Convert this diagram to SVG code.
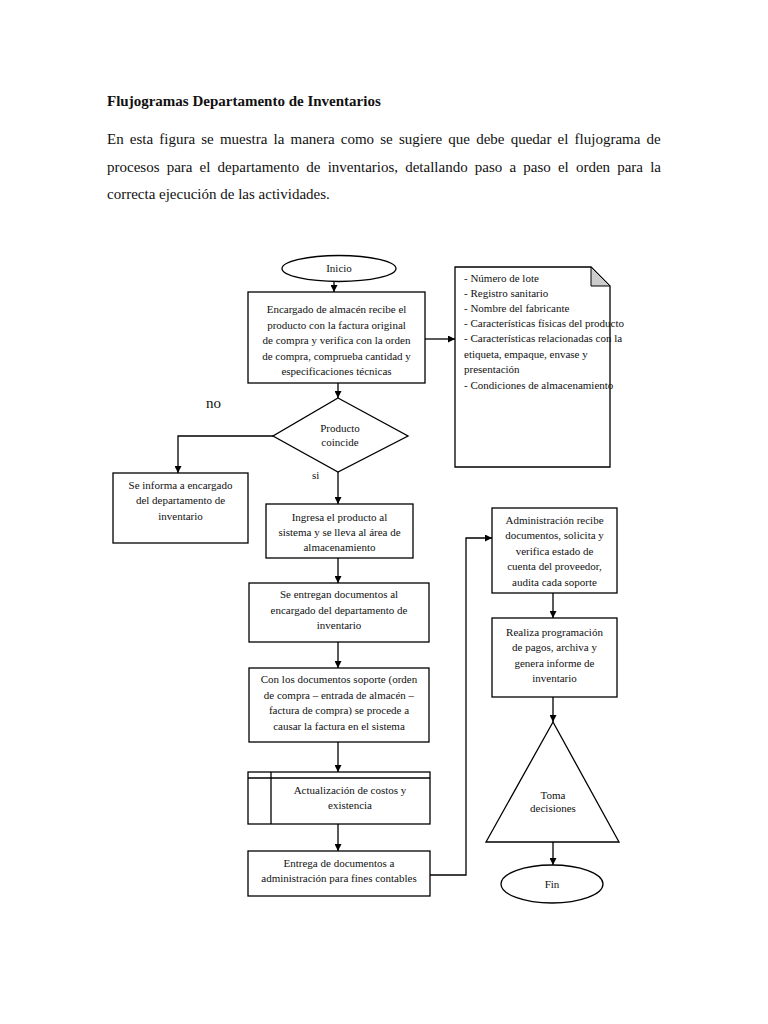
<svg xmlns="http://www.w3.org/2000/svg" width="768" height="1024" viewBox="0 0 768 1024">
<defs>
<marker id="ah" viewBox="0 0 10 10" refX="10" refY="5" markerWidth="7" markerHeight="7" markerUnits="userSpaceOnUse" orient="auto">
<path d="M0,0 L10,5 L0,10 z" fill="#000"/>
</marker>
<style>
.t{font-family:"Liberation Serif","Times New Roman",serif;fill:#111}
.p{font-size:15px}
.n{font-size:11px;text-anchor:middle}
.nl{font-size:11px}
.s{fill:#fff;stroke:#000;stroke-width:1.3}
.c{fill:none;stroke:#000;stroke-width:1.3;marker-end:url(#ah)}
.l{fill:none;stroke:#000;stroke-width:1.3}
</style>
</defs>
<rect width="768" height="1024" fill="#fff"/>
<text class="t p" x="107" y="106" font-weight="bold">Flujogramas Departamento de Inventarios</text>
<text class="t p" x="107" y="144" word-spacing="2.4">En esta figura se muestra la manera como se sugiere que debe quedar el flujograma de</text>
<text class="t p" x="107" y="172" word-spacing="3.4">procesos para el departamento de inventarios, detallando paso a paso el orden para la</text>
<text class="t p" x="107" y="199">correcta ejecución de las actividades.</text>

<g id="connectors">
<path class="c" d="M334,281.5 V292"/>
<path class="c" d="M338,383 V398"/>
<path class="c" d="M425,339 H455"/>
<path class="c" d="M273,436 H178 V473"/>
<path class="c" d="M338,472 V504"/>
<path class="c" d="M338,558 V583"/>
<path class="c" d="M338,642 V668"/>
<path class="c" d="M338,742 V772"/>
<path class="c" d="M338,824 V851"/>
<path class="c" d="M430,875 H466 V538 H492"/>
<path class="c" d="M553,593 V618"/>
<path class="c" d="M553,697 V722"/>
<path class="c" d="M553,842 V865"/>
</g>

<g id="inicio">
<ellipse class="s" cx="339" cy="268.5" rx="57" ry="13"/>
<text class="t n" x="339" y="272">Inicio</text>
</g>

<g id="recibe">
<rect class="s" x="248" y="292" width="177" height="91"/>
<text class="t n" x="336.5" y="313">Encargado de almacén recibe el</text>
<text class="t n" x="336.5" y="328.5">producto con la factura original</text>
<text class="t n" x="336.5" y="344">de compra y verifica con la orden</text>
<text class="t n" x="336.5" y="359.5">de compra, comprueba cantidad y</text>
<text class="t n" x="336.5" y="375">especificaciones técnicas</text>
</g>

<g id="nota">
<path class="s" d="M455,267 H591 L610,286 V467 H455 Z"/>
<path d="M591,267 L591,286 L610,286 Z" fill="#ccc" stroke="#000" stroke-width="1"/>
<text class="t nl" x="464" y="281.5">- Número de lote</text>
<text class="t nl" x="464" y="296.5">- Registro sanitario</text>
<text class="t nl" x="464" y="311.5">- Nombre del fabricante</text>
<text class="t nl" x="464" y="327">- Características físicas del producto</text>
<text class="t nl" x="464" y="342">- Características relacionadas con la</text>
<text class="t nl" x="464" y="357.5">etiqueta, empaque, envase y</text>
<text class="t nl" x="464" y="373">presentación</text>
<text class="t nl" x="464" y="388.5">- Condiciones de almacenamiento</text>
</g>

<g id="decision">
<path class="s" d="M338,398 L408,436 L338,472 L273,436 Z"/>
<text class="t n" x="340" y="431.5">Producto</text>
<text class="t n" x="340" y="446">coincide</text>
</g>
<text class="t" x="206" y="408" font-size="15">no</text>
<text class="t" x="312" y="479" font-size="11">si</text>

<g id="informa">
<rect class="s" x="113" y="473" width="135" height="70"/>
<text class="t n" x="180.5" y="488.5">Se informa a encargado</text>
<text class="t n" x="180.5" y="504">del departamento de</text>
<text class="t n" x="180.5" y="519.5">inventario</text>
</g>

<g id="ingresa">
<rect class="s" x="266" y="504" width="147" height="54"/>
<text class="t n" x="339.5" y="520.5">Ingresa el producto al</text>
<text class="t n" x="339.5" y="535.5">sistema y se lleva al área de</text>
<text class="t n" x="339.5" y="551">almacenamiento</text>
</g>

<g id="entregan">
<rect class="s" x="249" y="583" width="180" height="59"/>
<text class="t n" x="339" y="598">Se entregan documentos al</text>
<text class="t n" x="339" y="613.5">encargado del departamento de</text>
<text class="t n" x="339" y="629">inventario</text>
</g>

<g id="causar">
<rect class="s" x="249" y="668" width="180" height="74"/>
<text class="t n" x="339" y="683">Con los documentos soporte (orden</text>
<text class="t n" x="339" y="698.5">de compra – entrada de almacén –</text>
<text class="t n" x="339" y="714">factura de compra) se procede a</text>
<text class="t n" x="339" y="729.5">causar la factura en el sistema</text>
</g>

<g id="actualizacion">
<rect class="s" x="248" y="772" width="182" height="52"/>
<path class="l" d="M248,778 H430 M271,772 V824"/>
<text class="t n" x="350" y="793.5">Actualización de costos y</text>
<text class="t n" x="350" y="809">existencia</text>
</g>

<g id="entrega">
<rect class="s" x="248" y="851" width="182" height="45"/>
<text class="t n" x="339" y="866.5">Entrega de documentos a</text>
<text class="t n" x="339" y="882">administración para fines contables</text>
</g>

<g id="administracion">
<rect class="s" x="492" y="508" width="125" height="85"/>
<text class="t n" x="554.5" y="523.5">Administración recibe</text>
<text class="t n" x="554.5" y="539">documentos, solicita y</text>
<text class="t n" x="554.5" y="554.5">verifica estado de</text>
<text class="t n" x="554.5" y="570">cuenta del proveedor,</text>
<text class="t n" x="554.5" y="585.5">audita cada soporte</text>
</g>

<g id="programacion">
<rect class="s" x="492" y="618" width="125" height="79"/>
<text class="t n" x="554.5" y="635.5">Realiza programación</text>
<text class="t n" x="554.5" y="651">de pagos, archiva y</text>
<text class="t n" x="554.5" y="666.5">genera informe de</text>
<text class="t n" x="554.5" y="682">inventario</text>
</g>

<g id="decisiones">
<path class="s" d="M553,722 L619,842 L486,842 Z"/>
<text class="t n" x="553" y="798.5">Toma</text>
<text class="t n" x="553" y="812">decisiones</text>
</g>

<g id="fin">
<ellipse class="s" cx="552" cy="884" rx="51" ry="19"/>
<text class="t n" x="552" y="888">Fin</text>
</g>
</svg>
